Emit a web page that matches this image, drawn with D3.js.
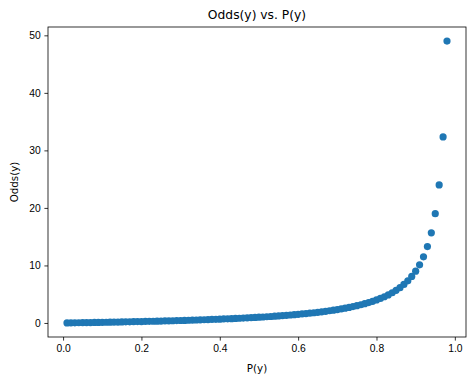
<!DOCTYPE html>
<html>
<head>
<meta charset="utf-8">
<script src="https://cdn.jsdelivr.net/npm/d3@7"></script>
<style>
  body { margin: 0; background: #fff; }
  svg { display: block; font-family: "DejaVu Sans", sans-serif; }
  .tick text { font-size: 10.3px; fill: #000; }
  .tick line { stroke: #000; stroke-width: 0.8; }
</style>
</head>
<body>
<div id="chart"></div>
<script>
// P(y) values and the matching odds
const pValues = [
    0.01, 0.02, 0.03, 0.04, 0.05, 0.06, 0.07, 0.08, 0.09, 0.10,
    0.11, 0.12, 0.13, 0.14, 0.15, 0.16, 0.17, 0.18, 0.19, 0.20,
    0.21, 0.22, 0.23, 0.24, 0.25, 0.26, 0.27, 0.28, 0.29, 0.30,
    0.31, 0.32, 0.33, 0.34, 0.35, 0.36, 0.37, 0.38, 0.39, 0.40,
    0.41, 0.42, 0.43, 0.44, 0.45, 0.46, 0.47, 0.48, 0.49, 0.50,
    0.51, 0.52, 0.53, 0.54, 0.55, 0.56, 0.57, 0.58, 0.59, 0.60,
    0.61, 0.62, 0.63, 0.64, 0.65, 0.66, 0.67, 0.68, 0.69, 0.70,
    0.71, 0.72, 0.73, 0.74, 0.75, 0.76, 0.77, 0.78, 0.79, 0.80,
    0.81, 0.82, 0.83, 0.84, 0.85, 0.86, 0.87, 0.88, 0.89, 0.90,
    0.91, 0.92, 0.93, 0.94, 0.95, 0.96, 0.97, 0.98
];
const oddsValues = [
    0.0101, 0.0204, 0.0309, 0.0417, 0.0526, 0.0638, 0.0753, 0.0870, 0.0989, 0.1111,
    0.1236, 0.1364, 0.1494, 0.1628, 0.1765, 0.1905, 0.2048, 0.2195, 0.2346, 0.25,
    0.2658, 0.2821, 0.2987, 0.3158, 0.3333, 0.3514, 0.3699, 0.3889, 0.4085, 0.4286,
    0.4493, 0.4706, 0.4925, 0.5152, 0.5385, 0.5625, 0.5873, 0.6129, 0.6393, 0.6667,
    0.6949, 0.7241, 0.7544, 0.7857, 0.8182, 0.8519, 0.8868, 0.9231, 0.9608, 1.0,
    1.0408, 1.0833, 1.1277, 1.1739, 1.2222, 1.2727, 1.3256, 1.3810, 1.4390, 1.5,
    1.5641, 1.6316, 1.7027, 1.7778, 1.8571, 1.9412, 2.0303, 2.125, 2.2258, 2.3333,
    2.4483, 2.5714, 2.7037, 2.8462, 3.0, 3.1667, 3.3478, 3.5455, 3.7619, 4.0,
    4.2632, 4.5556, 4.8824, 5.25, 5.6667, 6.1429, 6.6923, 7.3333, 8.0909, 9.0,
    10.1111, 11.5, 13.2857, 15.6667, 19.0, 24.0, 32.3333, 49.0
];
const xTicks = [0.0, 0.2, 0.4, 0.6, 0.8, 1.0];
const yTicks = [0, 10, 20, 30, 40, 50];

const W = 474, H = 382;
const margin = { top: 27, right: 8, bottom: 45, left: 48 };
const width = W - margin.left - margin.right;
const height = H - margin.top - margin.bottom;

const svg = d3.select('#chart')
    .append('svg')
    .attr('width', W)
    .attr('height', H);

const g = svg.append('g')
    .attr('transform', `translate(${margin.left},${margin.top})`);

// matplotlib style 5% padding on both axes
const xExt = d3.extent(pValues), yExt = d3.extent(oddsValues);
const xPad = (xExt[1] - xExt[0]) * 0.05, yPad = (yExt[1] - yExt[0]) * 0.05;

const x = d3.scaleLinear()
    .domain([xExt[0] - xPad, xExt[1] + xPad])
    .range([0, width]);
const y = d3.scaleLinear()
    .domain([yExt[0] - yPad, yExt[1] + yPad])
    .range([height, 0]);

// points
g.selectAll('.dot')
    .data(pValues)
    .enter()
    .append('circle')
    .attr('class', 'dot')
    .attr('cx', d => x(d))
    .attr('cy', (d, i) => y(oddsValues[i]))
    .attr('r', 3.6)
    .attr('fill', '#1f77b4');

// axes
const xAxis = g.append('g')
    .attr('transform', `translate(0,${height})`)
    .call(d3.axisBottom(x).tickValues(xTicks).tickFormat(d3.format('.1f')).tickSize(3.6).tickPadding(3.6));
const yAxis = g.append('g')
    .call(d3.axisLeft(y).tickValues(yTicks).tickFormat(d3.format('d')).tickSize(3.6).tickPadding(3.6));
xAxis.select('.domain').remove();
yAxis.select('.domain').remove();

// frame
g.append('rect')
    .attr('width', width)
    .attr('height', height)
    .attr('fill', 'none')
    .attr('stroke', '#000')
    .attr('stroke-width', 0.8);

// labels
svg.append('text')
    .attr('x', margin.left + width / 2)
    .attr('y', margin.top - 8)
    .attr('text-anchor', 'middle')
    .style('font-size', '12.3px')
    .text('Odds(y) vs. P(y)');

svg.append('text')
    .attr('x', margin.left + width / 2)
    .attr('y', H - 10)
    .attr('text-anchor', 'middle')
    .style('font-size', '10.3px')
    .text('P(y)');

svg.append('text')
    .attr('transform', 'rotate(-90)')
    .attr('x', -(margin.top + height / 2))
    .attr('y', 18)
    .attr('text-anchor', 'middle')
    .style('font-size', '10.3px')
    .text('Odds(y)');
</script>
</body>
</html>
